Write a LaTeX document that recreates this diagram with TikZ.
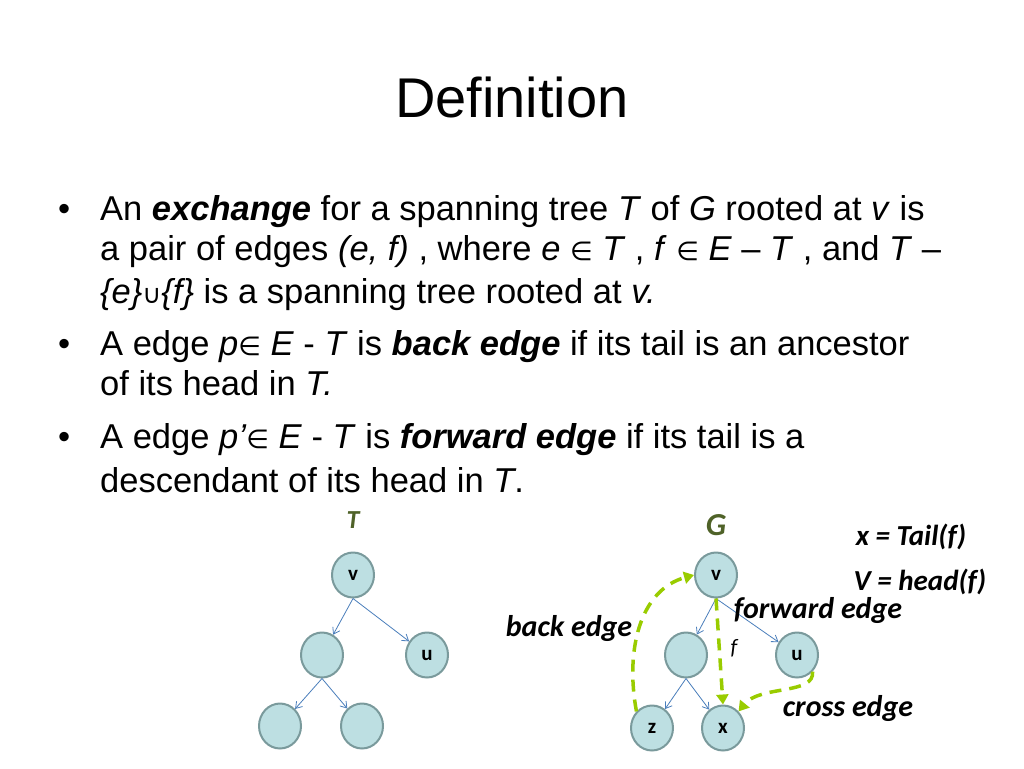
\documentclass[tikz,border=0pt]{standalone}
\usepackage{fontspec}
\setmainfont{Liberation Sans}
\newfontfamily\calfont{Carlito}
\newfontfamily\symfont{DejaVu Sans}
\usetikzlibrary{arrows.meta,shapes.geometric}
\definecolor{nfill}{HTML}{BDDFE2}
\definecolor{ndraw}{HTML}{7A9A9C}
\definecolor{olive}{HTML}{4F6228}
\definecolor{lime}{HTML}{99CC00}
\definecolor{edgeblue}{HTML}{4A7EBB}
\newcommand{\inn}{{\symfont\fontsize{26}{26}\selectfont ∈}}
\newcommand{\cupp}{{\symfont\fontsize{26}{26}\selectfont ∪}}
\begin{document}
\begin{tikzpicture}[x=1pt,y=-1pt,
 vtx/.style={ellipse,draw=ndraw,line width=2pt,fill=nfill,minimum width=42pt,minimum height=45pt,inner sep=0pt,font=\calfont\bfseries\fontsize{21}{21}\selectfont},
 tedge/.style={draw=edgeblue,line width=0.8pt,-{Straight Barb[length=6pt,width=8pt]}},
 gedge/.style={draw=lime,line width=3.5pt,dash pattern=on 12pt off 8pt,-{Triangle[length=10pt,width=12pt]}},
 body/.style={anchor=base west,inner sep=0pt,font=\fontsize{34.5}{34.5}\selectfont},
 lbl/.style={inner sep=0pt,font=\calfont\bfseries\itshape\fontsize{30}{30}\selectfont}]
\useasboundingbox (0,0) rectangle (1024,768);
\node[inner sep=0pt,font=\fontsize{56}{56}\selectfont] (title) at (512,97) {Definition};
\node[body] (b1) at (58,220) {•};
\node[body] (b2) at (58,355) {•};
\node[body] (b3) at (58,448) {•};
\node[body] (l1) at (100,220) {An \textbf{\textit{exchange}} for a spanning tree \textit{T} of \textit{G} rooted at \textit{v} is};
\node[body] (l2) at (100,260) {a pair of edges \textit{(e, f)} , where \textit{e} \inn{} \textit{T} , \textit{f} \inn{} \textit{E} – \textit{T} , and \textit{T} –};
\node[body] (l3) at (100,303) {\textit{\{e\}}\cupp\textit{\{f\}} is a spanning tree rooted at \textit{v.}};
\node[body] (l4) at (100,355) {A edge \textit{p}\inn{} \textit{E} - \textit{T} is \textbf{\textit{back edge}} if its tail is an ancestor};
\node[body] (l5) at (100,395) {of its head in \textit{T.}};
\node[body] (l6) at (100,448) {A edge \textit{p’}\inn{} \textit{E} - \textit{T} is \textbf{\textit{forward edge}} if its tail is a};
\node[body] (l7) at (100,492) {descendant of its head in \textit{T}.};
% T
\node[lbl,text=olive,font=\calfont\bfseries\itshape\fontsize{26}{26}\selectfont] (Tl) at (353,520) {T};
\node[vtx] (tv) at (353,575) {v};
\node[vtx] (ta) at (322,655) {};
\node[vtx] (tu) at (427,655) {u};
\node[vtx] (tb) at (280,726) {};
\node[vtx] (tc) at (362,726) {};
\draw[tedge] (tv.south) -- (ta);
\draw[tedge] (tv.south) -- (tu);
\draw[tedge] (ta.south) -- (tb);
\draw[tedge] (ta.south) -- (tc);
% G
\node[lbl,text=olive,font=\calfont\bfseries\itshape\fontsize{32}{32}\selectfont] (Gl) at (716,525) {G};
\node[vtx] (gv) at (716,575) {v};
\node[vtx] (ga) at (686,655) {};
\node[vtx] (gu) at (797,655) {u};
\node[vtx] (gz) at (652,728) {z};
\node[vtx] (gx) at (723,728) {x};
\draw[tedge] (gv.south) -- (ga);
\draw[tedge] (gv.south) -- (gu);
\draw[tedge] (ga.south) -- (gz);
\draw[tedge] (ga.south) -- (gx);
\draw[gedge] (gz.north west) .. controls (625,650) and (640,590) .. (gv.west);
\draw[gedge] (gv.south) -- (gx.north);
\draw[gedge] (gu.south east) .. controls (815,695) and (760,685) .. (gx.north east);
\node[lbl,font=\calfont\itshape\fontsize{22}{22}\selectfont] (f) at (734,648) {f};
\node[lbl,font=\calfont\bfseries\itshape\fontsize{29}{29}\selectfont] (xt) at (911,537) {x = Tail(f)};
\node[lbl,font=\calfont\bfseries\itshape\fontsize{29}{29}\selectfont] (vh) at (920,582) {V = head(f)};
\node[lbl] (fe) at (818,610) {forward edge};
\node[lbl] (be) at (569,628) {back edge};
\node[lbl] (ce) at (848,708) {cross edge};
\end{tikzpicture}
\end{document}
